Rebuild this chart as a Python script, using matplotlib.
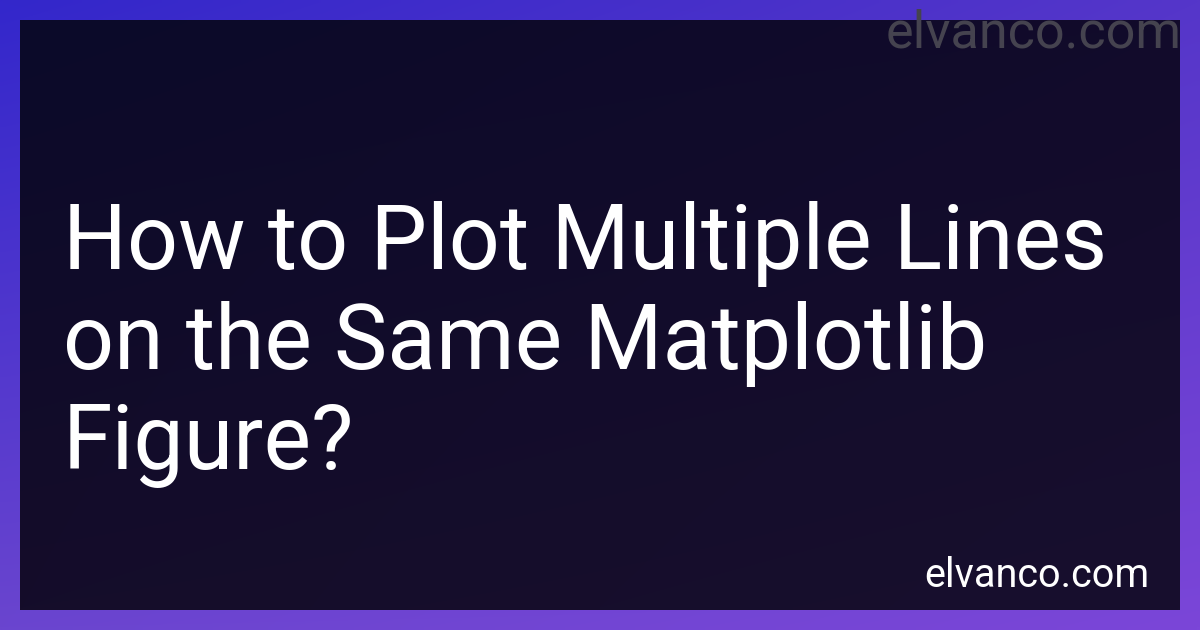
import numpy as np
import matplotlib
matplotlib.use("Agg")
import matplotlib.pyplot as plt

W, H = 1200, 630

# text content
title_lines = ["How to Plot Multiple Lines", "on the Same Matplotlib", "Figure?"]
site_name = "elvanco.com"

# corner colours (tl, tr, bl, br)
border_corners = ["#3327cb", "#5536c9", "#6a45cf", "#7b46d8"]
panel_corners = ["#0b0a29", "#120b2b", "#150d2a", "#180f2e"]


def corner_gradient(corners, nx=240, ny=126):
    c = np.array([matplotlib.colors.to_rgb(k) for k in corners])
    u = np.linspace(0, 1, nx)[None, :, None]
    v = np.linspace(0, 1, ny)[:, None, None]
    top = c[0] * (1 - u) + c[1] * u
    bot = c[2] * (1 - u) + c[3] * u
    return top * (1 - v) + bot * v


fig = plt.figure(figsize=(W / 100, H / 100), dpi=100)
ax = fig.add_axes([0, 0, 1, 1])
ax.set_xlim(0, W)
ax.set_ylim(H, 0)
ax.axis("off")

ax.imshow(corner_gradient(border_corners), extent=[0, W, H, 0],
          aspect="auto", interpolation="bilinear", zorder=0)
ax.imshow(corner_gradient(panel_corners), extent=[20, 1180, 610, 20],
          aspect="auto", interpolation="bilinear", zorder=1)

# title, one line per baseline
for i, line in enumerate(title_lines):
    ax.text(63, 269 + i * 100, line, color="white", fontsize=64.5,
            family="Roboto", ha="left", va="baseline", zorder=3)

# watermark top right
ax.text(1182, 48, site_name, color="#45434f", fontsize=37.5,
        family="Roboto", ha="right", va="baseline", zorder=3)

# footer bottom right
ax.text(1149, 587, site_name, color="white", fontsize=28.5,
        family="Roboto", ha="right", va="baseline", zorder=3)

fig.savefig("out.png", dpi=100)
plt.close(fig)
